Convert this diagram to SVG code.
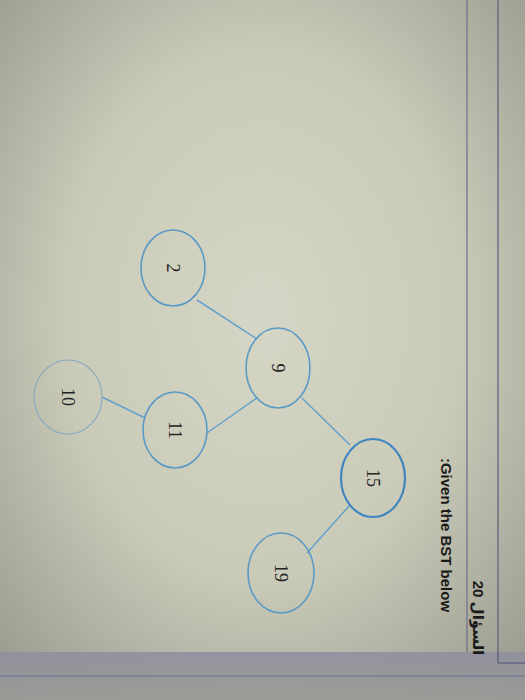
<svg xmlns="http://www.w3.org/2000/svg" width="525" height="700" viewBox="0 0 525 700">
<defs>
<radialGradient id="bg" cx="0.5" cy="0.45" r="0.75">
<stop offset="0" stop-color="#d6d6c6"/>
<stop offset="0.5" stop-color="#cacab8"/>
<stop offset="1" stop-color="#94968a"/>
</radialGradient>
<linearGradient id="bot" x1="0" y1="0" x2="0" y2="1">
<stop offset="0" stop-color="#8e8f9e"/>
<stop offset="1" stop-color="#9a9b96"/>
</linearGradient>
<style>
.node{fill:none;stroke:#5a9ac4;stroke-width:1.6}
.sel{fill:none;stroke:#3f86c0;stroke-width:2.2}
.edge{stroke:#62a2cc;stroke-width:1.5;fill:none}
.num{font-family:"Liberation Serif",serif;font-size:18px;fill:#222}
.hd{font-family:"Liberation Sans","DejaVu Sans",sans-serif;font-weight:bold;font-size:15px;fill:#1a1a1a}
</style>
</defs>
<rect x="0" y="0" width="525" height="700" fill="url(#bg)"/>
<rect x="0" y="652" width="525" height="48" fill="url(#bot)" opacity="0.9"/>
<line x1="0" y1="676" x2="525" y2="676" stroke="#6e7090" stroke-width="1.2"/>
<line x1="467" y1="0" x2="467" y2="652" stroke="#6f6f8a" stroke-width="1.2"/>
<line x1="498" y1="0" x2="498" y2="663" stroke="#5c5c80" stroke-width="1.2"/>
<line x1="498" y1="663" x2="525" y2="663" stroke="#5c5c80" stroke-width="1.2"/>
<g id="title">
<text class="hd" transform="translate(441,535) rotate(90)" text-anchor="middle">:Given the BST below</text>
<text class="hd" transform="translate(473,618) rotate(90)" text-anchor="middle" direction="rtl" font-size="13">السؤال 20</text>
</g>
<g id="connectors">
<line class="edge" x1="350" y1="445" x2="302" y2="398"/>
<line class="edge" x1="350" y1="505" x2="307" y2="553"/>
<line class="edge" x1="257" y1="339" x2="197" y2="300"/>
<line class="edge" x1="257" y1="398" x2="207" y2="433"/>
<line class="edge" x1="102" y1="397" x2="145" y2="418"/>
</g>
<g id="n15"><ellipse class="sel" cx="373" cy="478" rx="32" ry="39"/><text class="num" transform="translate(367,478) rotate(90)" text-anchor="middle">15</text></g>
<g id="n19"><ellipse class="node" cx="281" cy="573" rx="33" ry="40"/><text class="num" transform="translate(275,573) rotate(90)" text-anchor="middle">19</text></g>
<g id="n9"><ellipse class="node" cx="278" cy="368" rx="32" ry="40"/><text class="num" transform="translate(272,368) rotate(90)" text-anchor="middle">9</text></g>
<g id="n2"><ellipse class="node" cx="173" cy="268" rx="32" ry="38"/><text class="num" transform="translate(167,268) rotate(90)" text-anchor="middle">2</text></g>
<g id="n11"><ellipse class="node" cx="175" cy="430" rx="32" ry="38"/><text class="num" transform="translate(169,430) rotate(90)" text-anchor="middle">11</text></g>
<g id="n10"><ellipse class="node" cx="68" cy="397" rx="34" ry="37" style="stroke:#86a9be;stroke-width:1.1"/><text class="num" transform="translate(62,397) rotate(90)" text-anchor="middle">10</text></g>
</svg>
